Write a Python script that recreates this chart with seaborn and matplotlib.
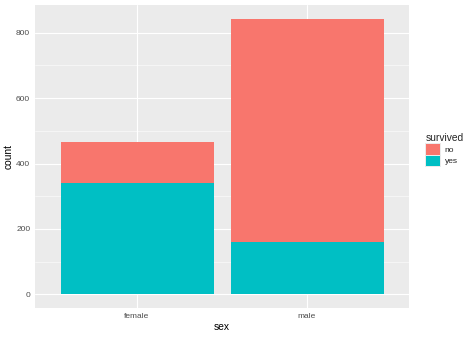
import matplotlib
matplotlib.use('Agg')
import matplotlib.pyplot as plt
import seaborn as sns
import pandas as pd
from matplotlib.ticker import FixedLocator
from matplotlib.patches import Patch

sex = ['female', 'male']
survived_yes = [339, 161]
survived_no = [127, 682]
y_ticks = [0, 200, 400, 600, 800]

df = pd.DataFrame({'sex': sex, 'yes': survived_yes, 'no': survived_no})
df['total'] = df['yes'] + df['no']

c_no = '#F8766D'
c_yes = '#00BFC4'

sns.set_style('white')
plt.rcParams['font.family'] = ['Liberation Sans', 'DejaVu Sans']

fig = plt.figure(figsize=(474/72, 338/72), dpi=72)
ax = fig.add_axes([35/474, 30/338, 374/474, 303/338])
ax.set_facecolor('#EBEBEB')
ax.set_axisbelow(True)

sns.barplot(data=df, x='sex', y='total', color=c_no, width=0.9, saturation=1,
            linewidth=0, ax=ax)
sns.barplot(data=df, x='sex', y='yes', color=c_yes, width=0.9, saturation=1,
            linewidth=0, ax=ax)

ax.set_xlim(-0.6, 1.6)
ax.set_ylim(-42, 885)
ax.set_yticks(y_ticks)
ax.yaxis.set_minor_locator(FixedLocator([100, 300, 500, 700]))
ax.grid(which='major', color='white', lw=1.1)
ax.grid(which='minor', axis='y', color='white', lw=0.55)
for s in ax.spines.values():
    s.set_visible(False)
ax.tick_params(which='major', length=2.75, width=0.8, color='#333333',
               labelcolor='#4D4D4D', labelsize=8.4, pad=2)
ax.tick_params(which='minor', length=0)
ax.set_xlabel('sex', fontsize=10.3, color='black', labelpad=2)
ax.set_ylabel('count', fontsize=10.3, color='black', labelpad=3)

handles = [Patch(facecolor=c_no, edgecolor='#EBEBEB', lw=1),
           Patch(facecolor=c_yes, edgecolor='#EBEBEB', lw=1)]
leg = fig.legend(handles, ['no', 'yes'], title='survived', loc='upper left',
                 bbox_to_anchor=(422/474, 1 - 130/338), frameon=False,
                 fontsize=8.4, title_fontsize=10.3, handlelength=1.7,
                 handleheight=1.7, labelspacing=0.0, handletextpad=0.6,
                 borderaxespad=0)
leg._legend_box.align = 'left'

fig.savefig('out.png', dpi=72)
